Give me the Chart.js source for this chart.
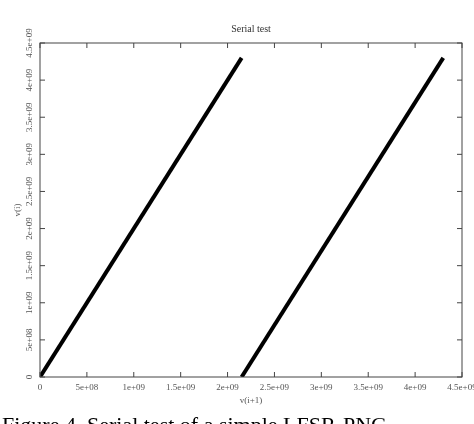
<!DOCTYPE html>
<html>
<head>
<script src="https://cdn.jsdelivr.net/npm/chart.js@4"></script>
<style>
  html, body { margin: 0; padding: 0; background: #fff; }
  #wrap { width: 474px; height: 424px; position: relative; }
</style>
</head>
<body>
<div id="wrap"><canvas id="myChart" width="474" height="424"></canvas></div>
<script>
// endpoints of the two point streaks
const streak1X = [0, 2.15e9];
const streak1Y = [0, 4.3e9];
const streak2X = [2.15e9, 4.3e9];
const streak2Y = [0, 4.3e9];
const tickValues = [0, 5e8, 1e9, 1.5e9, 2e9, 2.5e9, 3e9, 3.5e9, 4e9, 4.5e9];
const tickLabels = ["0", "5e+08", "1e+09", "1.5e+09", "2e+09", "2.5e+09", "3e+09", "3.5e+09", "4e+09", "4.5e+09"];

const toPoints = (xs, ys) => xs.map((x, i) => ({ x: x, y: ys[i] }));

const frame = {
  id: "frame",
  afterDraw(chart) {
    const c = chart.ctx;
    const a = chart.chartArea;
    const xs = chart.scales.x, ys = chart.scales.y;
    c.save();
    c.strokeStyle = "#444";
    c.lineWidth = 1;
    c.strokeRect(a.left, a.top, a.right - a.left, a.bottom - a.top);
    c.fillStyle = "#555";
    c.font = "9px 'Liberation Serif'";
    tickValues.forEach((v, i) => {
      const px = xs.getPixelForValue(v);
      const py = ys.getPixelForValue(v);
      c.beginPath();
      c.moveTo(px, a.bottom); c.lineTo(px, a.bottom - 5);
      c.moveTo(px, a.top); c.lineTo(px, a.top + 5);
      c.moveTo(a.left, py); c.lineTo(a.left + 5, py);
      c.moveTo(a.right, py); c.lineTo(a.right - 5, py);
      c.stroke();
      c.textAlign = "center"; c.textBaseline = "top";
      c.fillText(tickLabels[i], px, a.bottom + 6);
      c.save();
      c.translate(a.left - 10, py);
      c.rotate(-Math.PI / 2);
      c.textBaseline = "middle";
      c.fillText(tickLabels[i], 0, 0);
      c.restore();
    });
    c.fillText("v(i+1)", (a.left + a.right) / 2, a.bottom + 19);
    c.save();
    c.translate(18, (a.top + a.bottom) / 2);
    c.rotate(-Math.PI / 2);
    c.textBaseline = "middle";
    c.fillText("v(i)", 0, 0);
    c.restore();
    c.fillStyle = "#333";
    c.font = "10px 'Liberation Serif'";
    c.textBaseline = "middle";
    c.fillText("Serial test", (a.left + a.right) / 2, 29);
    c.fillStyle = "#000";
    c.textAlign = "left";
    c.textBaseline = "alphabetic";
    c.font = "22px 'Liberation Serif'";
    c.fillText("Figure 4. Serial test of a simple LFSR-PNG", 2, 432);
    c.restore();
  },
};

const ctx = document.getElementById("myChart").getContext("2d");

new Chart(ctx, {
  type: "scatter",
  data: {
    datasets: [
      {
        data: toPoints(streak1X, streak1Y),
        showLine: true,
        borderColor: "#000",
        borderWidth: 4,
        pointRadius: 0,
      },
      {
        data: toPoints(streak2X, streak2Y),
        showLine: true,
        borderColor: "#000",
        borderWidth: 4,
        pointRadius: 0,
      },
    ],
  },
  options: {
    responsive: false,
    animation: false,
    layout: { padding: { top: 43, right: 12, bottom: 0, left: 40 } },
    plugins: {
      legend: { display: false },
      tooltip: { enabled: false },
      title: { display: false },
    },
    scales: {
      x: {
        min: 0, max: 4.5e9,
        grid: { display: false },
        border: { display: false },
        ticks: { display: false },
        afterFit(s) { s.height = 47; },
      },
      y: {
        min: 0, max: 4.5e9,
        grid: { display: false },
        border: { display: false },
        ticks: { display: false },
        afterFit(s) { s.width = 0; },
      },
    },
  },
  plugins: [frame],
});
</script>
</body>
</html>
